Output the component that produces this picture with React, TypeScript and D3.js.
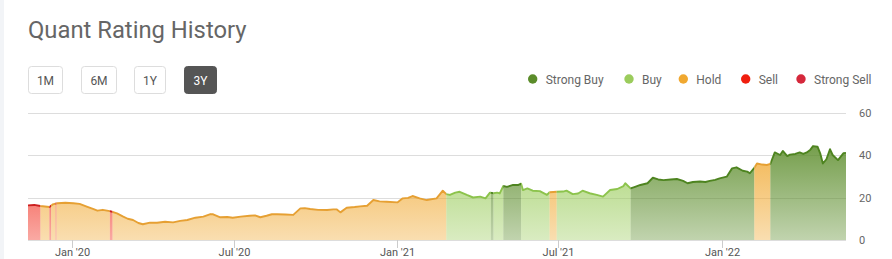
import React from "react";
import * as d3 from "d3";

const W = 892;
const H = 259;

const dates: string[] = [
  "2019-11-13","2019-11-20","2019-11-27","2019-12-07","2019-12-11","2019-12-16","2019-12-25","2020-01-03","2020-01-10","2020-01-18",
  "2020-01-25","2020-01-30","2020-02-05","2020-02-13","2020-02-21","2020-02-28","2020-03-04","2020-03-10","2020-03-16","2020-03-21",
  "2020-03-29","2020-04-06","2020-04-15","2020-04-24","2020-05-02","2020-05-10","2020-05-19","2020-05-28","2020-06-05","2020-06-08",
  "2020-06-16","2020-06-24","2020-06-30","2020-07-09","2020-07-19","2020-07-25","2020-07-31","2020-08-07","2020-08-13","2020-08-19",
  "2020-08-28","2020-09-06","2020-09-14","2020-09-19","2020-09-25","2020-10-04","2020-10-14","2020-10-21","2020-10-25","2020-10-29",
  "2020-11-05","2020-11-14","2020-11-20","2020-11-28","2020-12-05","2020-12-12","2020-12-20","2021-01-01","2021-01-07","2021-01-13",
  "2021-01-18","2021-01-26","2021-02-03","2021-02-14","2021-02-21","2021-02-25","2021-03-01","2021-03-07","2021-03-12","2021-03-20",
  "2021-03-27","2021-04-04","2021-04-10","2021-04-15","2021-04-19","2021-04-23","2021-04-26","2021-04-30","2021-05-04","2021-05-11",
  "2021-05-17","2021-05-20","2021-05-22","2021-05-27","2021-06-02","2021-06-10","2021-06-18","2021-06-21","2021-06-29","2021-07-06",
  "2021-07-10","2021-07-17","2021-07-23","2021-07-28","2021-08-05","2021-08-13","2021-08-20","2021-08-28","2021-09-05","2021-09-12",
  "2021-09-14","2021-09-20","2021-09-25","2021-10-01","2021-10-09","2021-10-15","2021-10-21","2021-10-27","2021-11-04","2021-11-11",
  "2021-11-18","2021-11-23","2021-11-29","2021-12-07","2021-12-13","2021-12-18","2021-12-24","2021-12-29","2022-01-06","2022-01-12",
  "2022-01-17","2022-01-24","2022-01-29","2022-02-01","2022-02-06","2022-02-09","2022-02-15","2022-02-20","2022-02-24","2022-03-01",
  "2022-03-07","2022-03-10","2022-03-15","2022-03-18","2022-03-24","2022-03-29","2022-04-02","2022-04-06","2022-04-10","2022-04-13",
  "2022-04-18","2022-04-21","2022-04-24","2022-04-28","2022-05-02","2022-05-05","2022-05-11","2022-05-17","2022-05-20"
];

const values: number[] = [
  16.3,16.5,16.0,15.5,16.8,17.3,17.5,17.3,17.0,15.7,
  14.6,13.8,14.2,13.6,12.5,11.0,10.0,9.4,8.0,7.4,
  8.2,8.1,8.6,8.3,9.0,9.4,10.5,11.0,12.2,12.1,
  10.7,10.8,10.5,11.0,11.4,11.6,10.7,11.4,12.1,12.1,
  12.0,11.8,14.9,15.0,14.6,14.2,14.1,14.4,14.4,13.0,
  15.2,15.5,15.8,16.1,18.8,18.2,18.0,17.7,19.6,19.8,
  20.7,19.6,18.8,19.6,23.2,21.6,21.2,22.3,22.7,21.2,
  20.0,20.4,19.6,22.3,22.0,22.3,21.9,25.4,25.0,25.9,
  25.9,26.5,23.5,24.3,23.2,23.0,21.2,22.5,22.7,22.8,
  23.2,21.6,21.9,23.2,22.0,21.2,20.4,23.5,24.0,25.4,
  26.7,24.3,25.0,25.9,26.7,29.3,28.5,28.2,28.5,28.7,
  27.8,26.7,27.3,27.5,27.3,27.8,28.3,29.0,29.8,33.7,
  34.2,32.6,32.2,31.4,34.0,36.0,35.5,35.3,35.8,41.2,
  40.0,41.9,39.5,40.2,40.5,41.2,40.5,41.2,42.5,44.2,
  43.9,40.8,36.0,38.0,42.7,40.0,37.6,40.8,41.0
];

const ratings: string[] = ["Strong Buy", "Buy", "Hold", "Sell", "Strong Sell"];
const ratingColors: string[] = ["#5b8c2a", "#9bcc5c", "#f0a830", "#f01e0e", "#d5283b"];
const lineColors: string[] = ["#4e8420", "#8cc34c", "#e6a033", "#cc2020", "#c02030"];

const segStart: string[] = [
  "2019-11-13","2019-11-27","2019-12-07","2019-12-09","2019-12-14","2019-12-15","2020-02-13","2020-02-16",
  "2021-02-25","2021-04-16","2021-04-19","2021-04-30","2021-05-20","2021-06-21","2021-06-29","2021-09-20",
  "2022-02-06","2022-02-24"
];
const segEnd: string[] = [
  "2019-11-27","2019-12-07","2019-12-09","2019-12-14","2019-12-15","2020-02-13","2020-02-16","2021-02-25",
  "2021-04-16","2021-04-19","2021-04-30","2021-05-20","2021-06-21","2021-06-29","2021-09-20","2022-02-06",
  "2022-02-24","2022-05-20"
];
const segRating: string[] = [
  "Sell","Hold","Sell","Hold","Sell","Hold","Sell","Hold",
  "Buy","Strong Buy","Buy","Strong Buy","Buy","Hold","Buy","Strong Buy",
  "Hold","Strong Buy"
];

const yTicks: number[] = [0, 20, 40, 60];
const xTickDates: string[] = ["2020-01-01", "2020-07-01", "2021-01-01", "2021-07-01", "2022-01-01"];
const xTickLabels: string[] = ["Jan '20", "Jul '20", "Jan '21", "Jul '21", "Jan '22"];
const buttons: string[] = ["1M", "6M", "1Y", "3Y"];
const activeButton = "3Y";

const parse = d3.timeParse("%Y-%m-%d");

export default function App() {
  const left = 28, right = 846, top = 112.5, bottom = 240;
  const pts = dates.map((d, i) => ({ date: parse(d) as Date, v: values[i] }));
  const x = d3.scaleTime()
    .domain([parse("2019-11-13") as Date, parse("2022-05-20") as Date])
    .range([left, right]);
  const y = d3.scaleLinear().domain([0, 60]).range([bottom, top]);
  const area = d3.area<{ date: Date; v: number }>()
    .x((d) => x(d.date)).y0(y(0)).y1((d) => y(d.v));
  const line = d3.line<{ date: Date; v: number }>()
    .x((d) => x(d.date)).y((d) => y(d.v));
  const areaD = area(pts) || "";
  const lineD = line(pts) || "";
  const font = "Roboto, 'Noto Sans', sans-serif";

  const btnX = [28, 81, 134, 184];
  const btnW = [34, 35, 31, 32];

  const legendDotX = [532.7, 629, 683.3, 745.7, 801];

  return (
    <svg width={W} height={H} style={{ position: "fixed", left: 0, top: 0, background: "#fff" }} fontFamily={font}>
      <defs>
        {ratings.map((r, i) => (
          <linearGradient key={r} id={`g${i}`} gradientUnits="userSpaceOnUse" x1={0} x2={0} y1={top} y2={bottom}>
            <stop offset="0%" stopColor={ratingColors[i]} stopOpacity={1} />
            <stop offset="100%" stopColor={ratingColors[i]} stopOpacity={0.38} />
          </linearGradient>
        ))}
        {segStart.map((s, i) => {
          const x0 = x(parse(s) as Date);
          const x1 = x(parse(segEnd[i]) as Date);
          return (
            <clipPath key={i} id={`c${i}`}>
              <rect x={x0} y={0} width={Math.max(0.8, x1 - x0)} height={H} />
            </clipPath>
          );
        })}
      </defs>
      <rect x={0} y={0} width={4} height={H} fill="#f2f4f7" />
      <text x={28} y={38} fontSize={23.8} fill="#666">Quant Rating History</text>
      {buttons.map((b, i) => {
        const active = b === activeButton;
        return (
          <g key={b}>
            <rect x={btnX[i] + 0.5} y={66.5} width={btnW[i]} height={27} rx={3}
              fill={active ? "#555" : "#fff"} stroke={active ? "#555" : "#ddd"} />
            <text x={btnX[i] + 0.5 + btnW[i] / 2} y={84.5} textAnchor="middle" fontSize={12}
              fill={active ? "#fff" : "#555"}>{b}</text>
          </g>
        );
      })}
      {ratings.map((r, i) => (
        <g key={r}>
          <circle cx={legendDotX[i]} cy={79} r={4.7} fill={ratingColors[i]} />
          <text x={legendDotX[i] + 13} y={83.5} fontSize={12} fill="#666">{r}</text>
        </g>
      ))}
      {yTicks.map((t) => (
        <g key={t}>
          <line x1={left} x2={right} y1={Math.round(y(t)) + 0.5} y2={Math.round(y(t)) + 0.5} stroke="#ddd" />
          <text x={859} y={y(t) + 4} fontSize={11} fill="#666">{t}</text>
        </g>
      ))}
      {segStart.map((s, i) => {
        const ri = ratings.indexOf(segRating[i]);
        return (
          <g key={i} clipPath={`url(#c${i})`}>
            <path d={areaD} fill={`url(#g${ri})`} />
            <path d={lineD} fill="none" stroke={lineColors[ri]} strokeWidth={1.9} strokeLinejoin="round" />
          </g>
        );
      })}
      {xTickDates.map((d, i) => {
        const xx = Math.round(x(parse(d) as Date)) + 0.5;
        return (
          <g key={d}>
            <line x1={xx} x2={xx} y1={240} y2={248} stroke="#ccc" />
            <text x={xx} y={256} textAnchor="middle" fontSize={11} fill="#555">{xTickLabels[i]}</text>
          </g>
        );
      })}
    </svg>
  );
}
